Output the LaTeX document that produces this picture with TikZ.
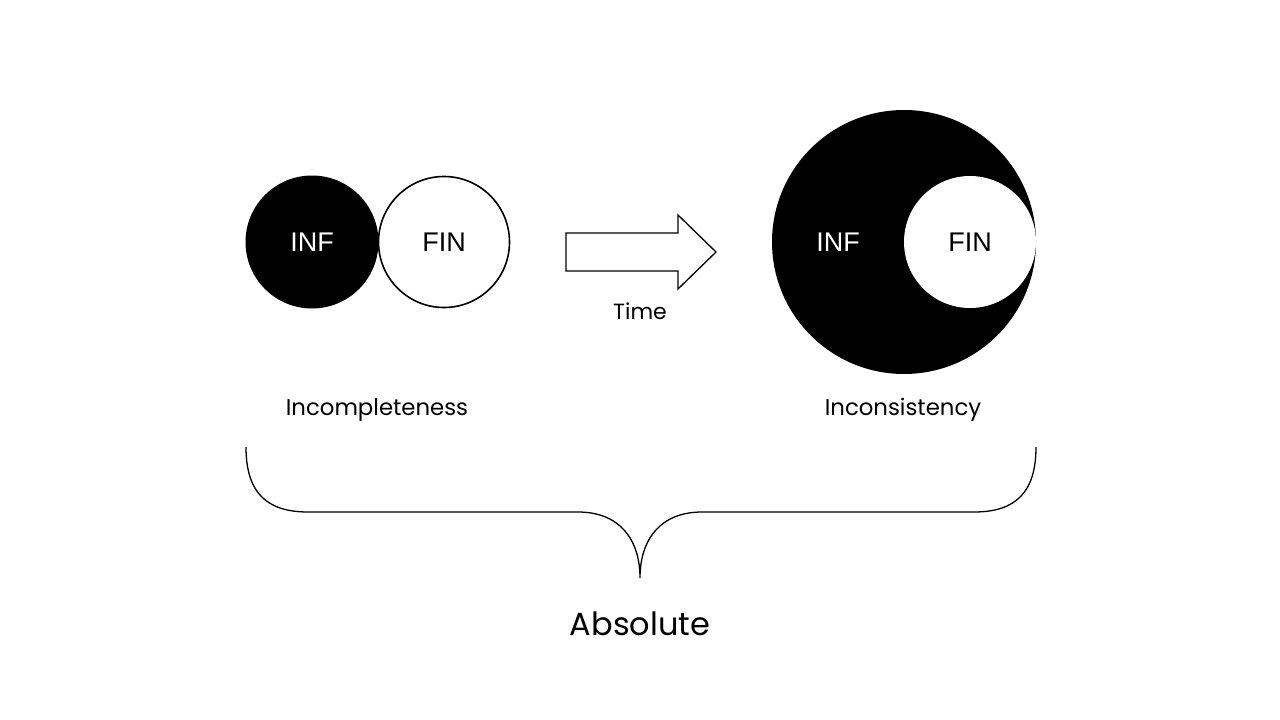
\documentclass[tikz,border=0pt]{standalone}
\usepackage{fontspec}
\setmainfont{Poppins}
\newfontfamily\circfont{Liberation Sans}
\begin{document}
\begin{tikzpicture}[x=1pt,y=-1pt,
  circtxt/.style={font=\circfont\fontsize{27}{30}\selectfont},
  lbl/.style={font=\fontsize{22.8}{26}\selectfont, text=black},
  bigblob/.style={circle, inner sep=0pt, fill=black},
  hole/.style={circle, inner sep=0pt, fill=white}]
\useasboundingbox[fill=white] (0,0) rectangle (1280,720);
% left pair
\node[bigblob, minimum size=133pt, circtxt, text=white] (inf1) at (312,242) {INF};
\node[hole, draw=black, line width=1.6pt, minimum size=131pt, circtxt] (fin1) at (444,242) {FIN};
% arrow
\draw[line width=1.3pt, line join=miter, fill=white] (566,233) -- (678,233) -- (678,215) -- (716,252) -- (678,289) -- (678,271) -- (566,271) -- cycle;
\node[lbl, font=\fontsize{22}{26}\selectfont] (time) at (640,311) {Time};
% right blob
\node[bigblob, minimum size=264pt] (inf2) at (904,242) {};
\node[hole, minimum size=132pt, circtxt] (fin2) at (970,242) {FIN};
\node[circtxt, text=white] (inftxt) at (838,242) {INF};
% labels
\node[lbl] (incomp) at (377,410) {Incompleteness};
\node[lbl] (incons) at (903,410) {Inconsistency};
% brace
\draw[line width=1.3pt] (246,447) .. controls (246,492) and (266,512) .. (308,512)
  -- (578,512) .. controls (620,512) and (640,540) .. (640,578)
  .. controls (640,540) and (660,512) .. (702,512)
  -- (974,512) .. controls (1016,512) and (1036,492) .. (1036,447);
\node[lbl, font=\fontsize{32}{36}\selectfont] (abs) at (640,624) {Absolute};
\end{tikzpicture}
\end{document}
